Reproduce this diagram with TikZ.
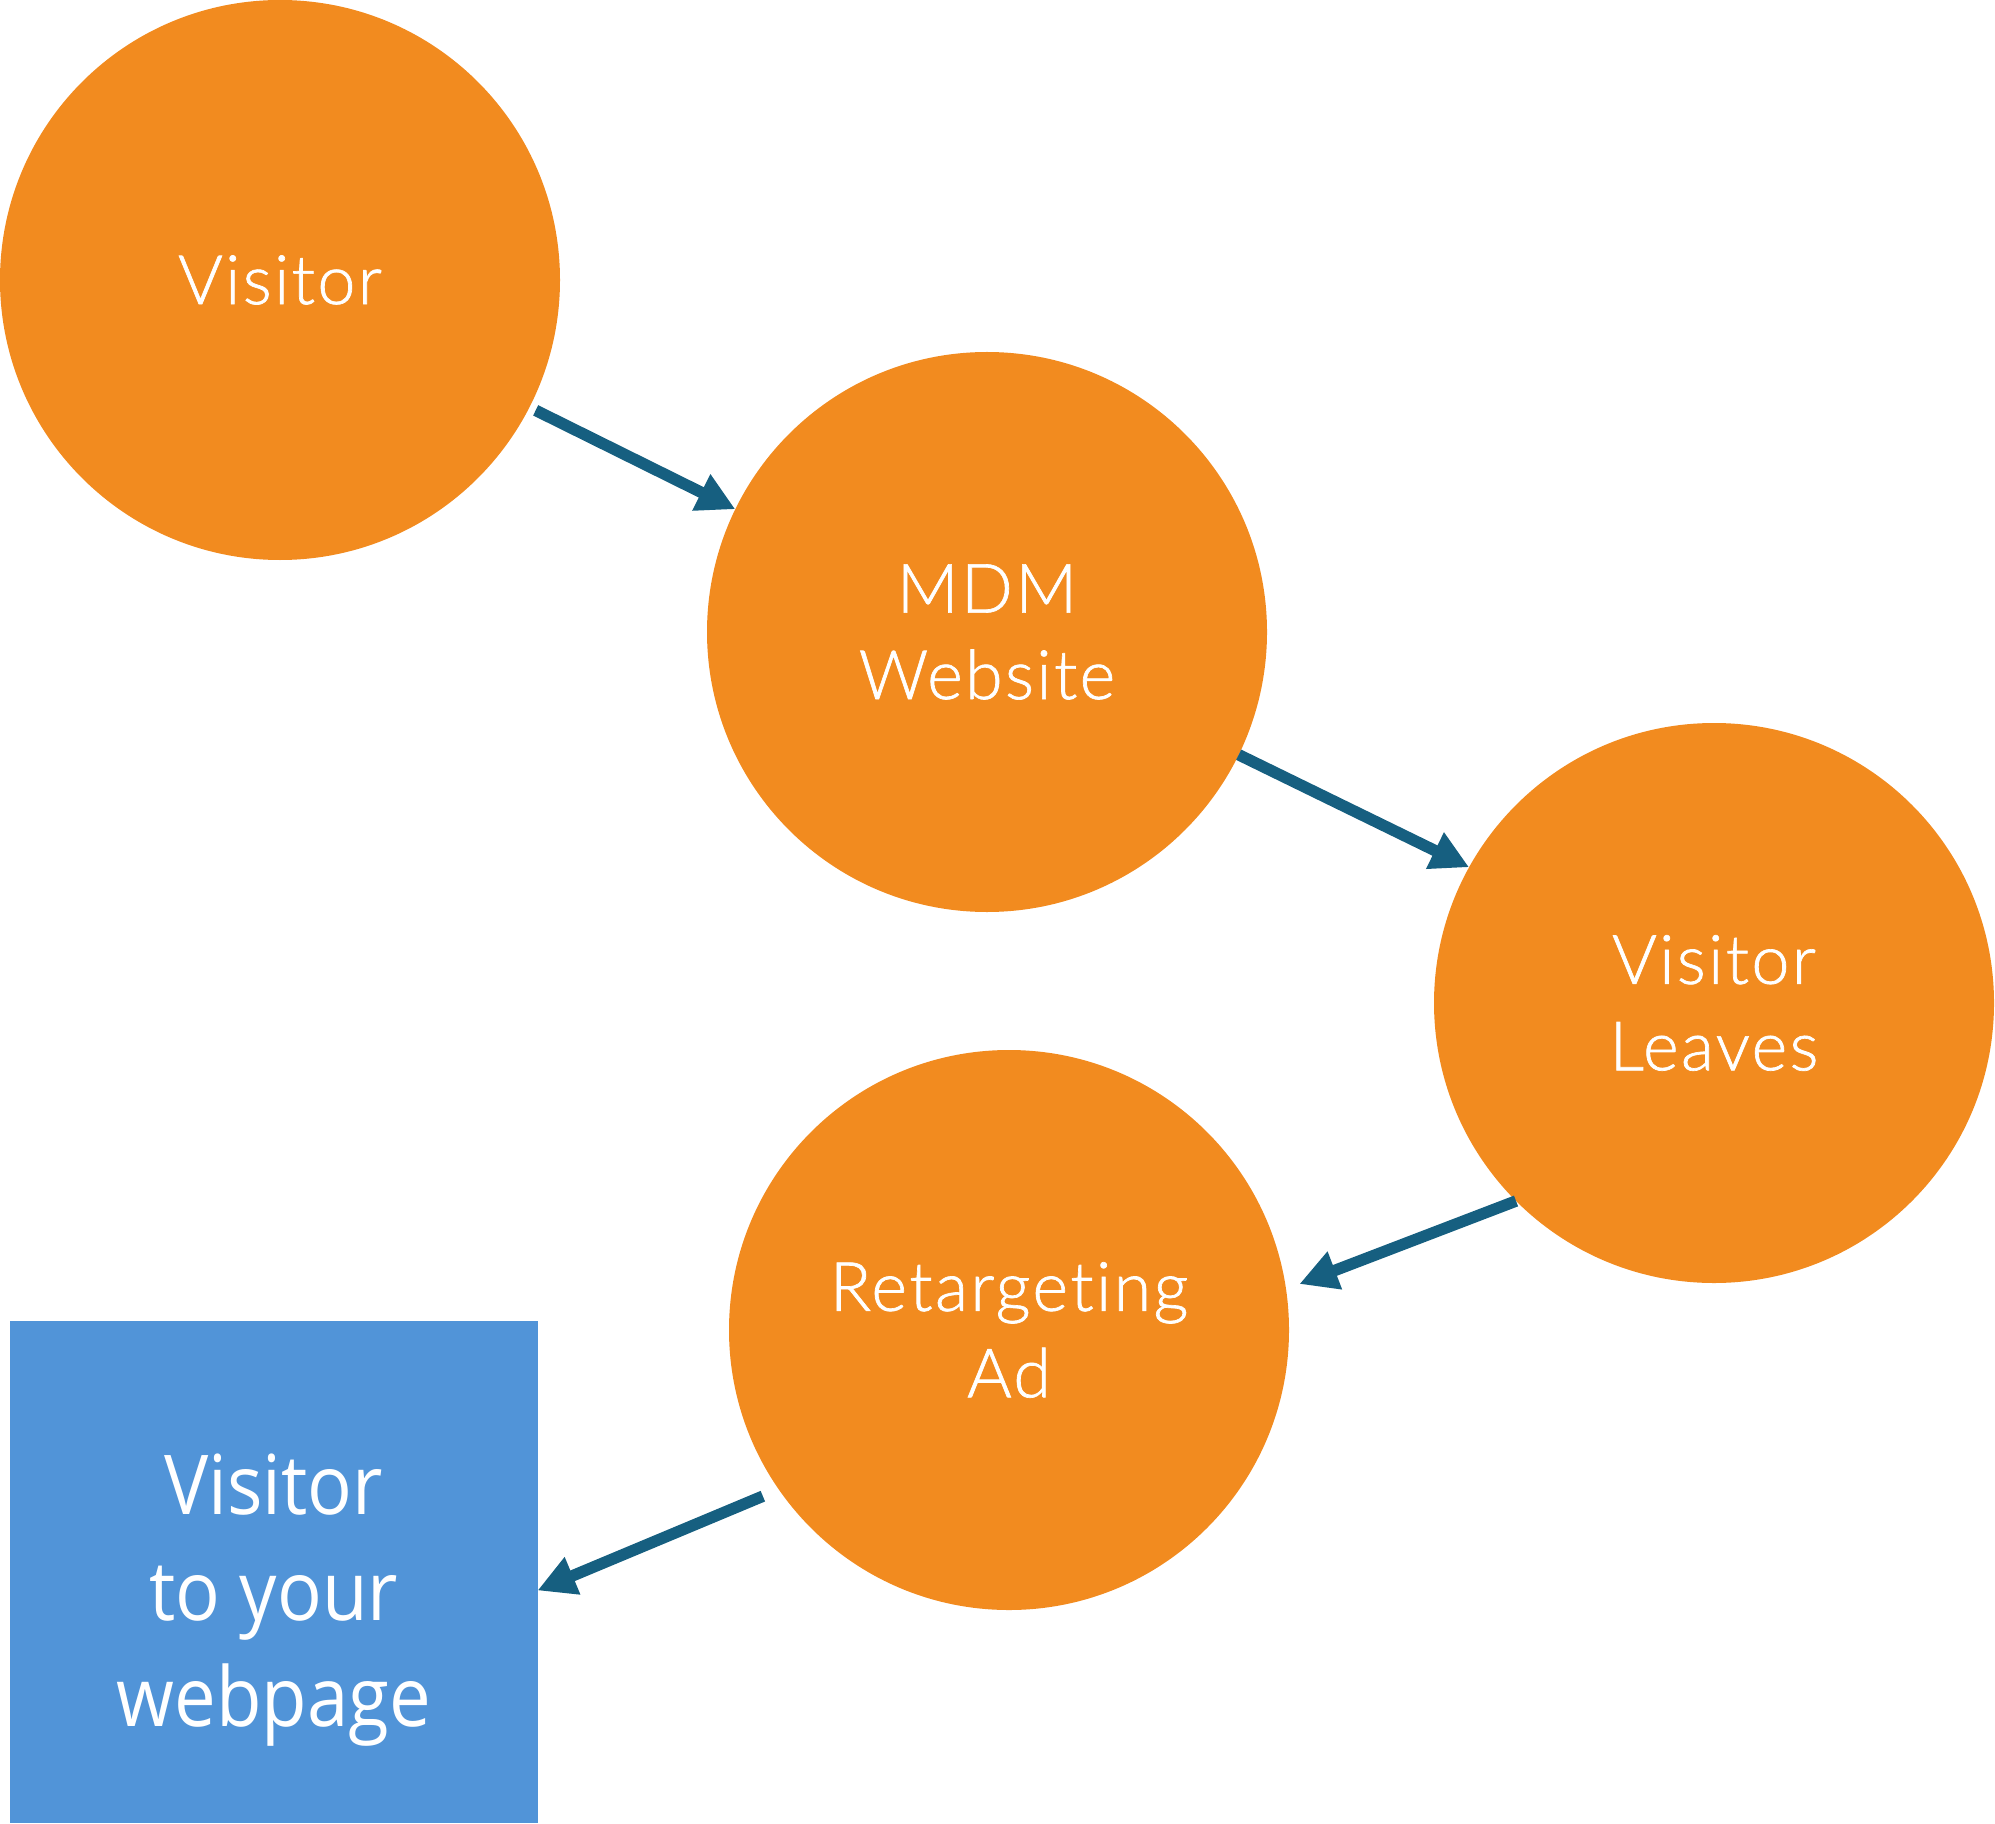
\documentclass[tikz,border=0pt]{standalone}
\usepackage{fontspec}
\setmainfont{Lato Light}[Ligatures=NoCommon, LetterSpace=3.5, FakeBold=1]
\newfontfamily\boxfont[FakeStretch=0.9]{Open Sans}
\usetikzlibrary{arrows.meta}
\definecolor{orangec}{RGB}{242,139,31}
\definecolor{bluec}{RGB}{81,148,216}
\definecolor{arrowc}{RGB}{22,95,128}
\tikzset{
  stage/.style={circle, fill=orangec, draw=none, minimum size=5.6cm, inner sep=0pt, outer sep=0pt,
    text=white, align=center, font=\fontsize{19.4}{24.6}\selectfont},
  goalbox/.style={rectangle, fill=bluec, draw=none, minimum width=5.275cm, minimum height=5.02cm,
    inner sep=0pt, outer sep=0pt},
  goaltext/.style={text=white, align=center, inner sep=0pt, font=\boxfont\fontsize{23.5}{30.2}\selectfont},
  flow/.style={draw=arrowc, line width=0.115cm, -{Triangle[length=0.38cm,width=0.38cm]}}
}
\begin{document}
\begin{tikzpicture}
\useasboundingbox (0,0) rectangle (19.95,18.23);
\node[stage] (visitor) at (2.80,15.43) {Visitor};
\node[stage] (mdm) at (9.87,11.91) {MDM\\Website};
\node[stage] (leaves) at (17.14,8.20) {Visitor\\Leaves};
\node[stage] (ret) at (10.09,4.93) {Retargeting\\Ad};
\node[goalbox] (box) at (2.7375,2.51) {};
\node[goaltext] (boxtext) at ([yshift=-0.28cm]box.center) {Visitor\\to your\\webpage};
\draw[flow] ([shift={(-27.6:0.07)}]visitor.-27.6) -- (mdm.154.6);
\draw[flow] (mdm.-26.7) -- (leaves.151.9);
\draw[flow] (leaves.225.3) -- ([shift={(9:0.14)}]ret.9);
\draw[flow] ([shift={(214.4:0.17)}]ret.214.4) -- (box.-4.6);
\end{tikzpicture}
\end{document}
